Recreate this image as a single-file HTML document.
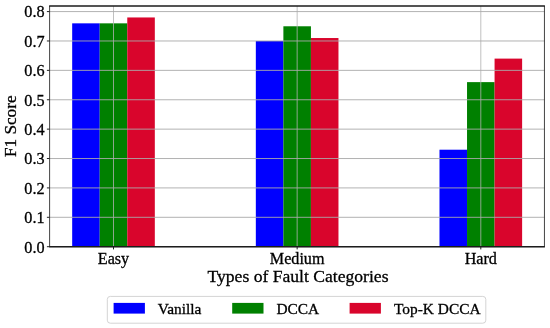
<!DOCTYPE html><html><head><meta charset="utf-8"><title>chart</title><style>html,body{margin:0;padding:0;background:#fff}svg{display:block}text{font-family:"Liberation Serif","Times New Roman",serif;fill:#000;stroke:#000;stroke-width:0.3px}</style></head><body>
<svg width="550" height="328" viewBox="0 0 550 328">
<rect width="550" height="328" fill="#fff"/>
<rect x="72.18" y="23.34" width="27.55" height="223.36" fill="#0000ff"/>
<rect x="99.73" y="23.34" width="27.55" height="223.36" fill="#008000"/>
<rect x="127.27" y="17.46" width="27.55" height="229.24" fill="#d9052c"/>
<rect x="255.83" y="40.97" width="27.55" height="205.73" fill="#0000ff"/>
<rect x="283.38" y="26.28" width="27.55" height="220.42" fill="#008000"/>
<rect x="310.92" y="38.03" width="27.55" height="208.67" fill="#d9052c"/>
<rect x="439.48" y="149.71" width="27.55" height="96.99" fill="#0000ff"/>
<rect x="467.03" y="82.12" width="27.55" height="164.58" fill="#008000"/>
<rect x="494.57" y="58.61" width="27.55" height="188.09" fill="#d9052c"/>
<line x1="113.50" x2="113.50" y1="6.0" y2="246.7" stroke="#b0b0b0" stroke-width="0.8"/>
<line x1="297.15" x2="297.15" y1="6.0" y2="246.7" stroke="#b0b0b0" stroke-width="0.8"/>
<line x1="480.80" x2="480.80" y1="6.0" y2="246.7" stroke="#b0b0b0" stroke-width="0.8"/>
<line x1="49.6" x2="544.45" y1="246.70" y2="246.70" stroke="#a9a9a9" stroke-width="0.9"/>
<line x1="49.6" x2="544.45" y1="217.31" y2="217.31" stroke="#a9a9a9" stroke-width="0.9"/>
<line x1="49.6" x2="544.45" y1="187.92" y2="187.92" stroke="#a9a9a9" stroke-width="0.9"/>
<line x1="49.6" x2="544.45" y1="158.53" y2="158.53" stroke="#a9a9a9" stroke-width="0.9"/>
<line x1="49.6" x2="544.45" y1="129.14" y2="129.14" stroke="#a9a9a9" stroke-width="0.9"/>
<line x1="49.6" x2="544.45" y1="99.75" y2="99.75" stroke="#a9a9a9" stroke-width="0.9"/>
<line x1="49.6" x2="544.45" y1="70.36" y2="70.36" stroke="#a9a9a9" stroke-width="0.9"/>
<line x1="49.6" x2="544.45" y1="40.97" y2="40.97" stroke="#a9a9a9" stroke-width="0.9"/>
<line x1="49.6" x2="544.45" y1="11.58" y2="11.58" stroke="#a9a9a9" stroke-width="0.9"/>
<line x1="113.50" x2="113.50" y1="246.7" y2="249.39999999999998" stroke="#222" stroke-width="1"/>
<line x1="297.15" x2="297.15" y1="246.7" y2="249.39999999999998" stroke="#222" stroke-width="1"/>
<line x1="480.80" x2="480.80" y1="246.7" y2="249.39999999999998" stroke="#222" stroke-width="1"/>
<line x1="46.9" x2="49.6" y1="246.70" y2="246.70" stroke="#222" stroke-width="1"/>
<line x1="46.9" x2="49.6" y1="217.31" y2="217.31" stroke="#222" stroke-width="1"/>
<line x1="46.9" x2="49.6" y1="187.92" y2="187.92" stroke="#222" stroke-width="1"/>
<line x1="46.9" x2="49.6" y1="158.53" y2="158.53" stroke="#222" stroke-width="1"/>
<line x1="46.9" x2="49.6" y1="129.14" y2="129.14" stroke="#222" stroke-width="1"/>
<line x1="46.9" x2="49.6" y1="99.75" y2="99.75" stroke="#222" stroke-width="1"/>
<line x1="46.9" x2="49.6" y1="70.36" y2="70.36" stroke="#222" stroke-width="1"/>
<line x1="46.9" x2="49.6" y1="40.97" y2="40.97" stroke="#222" stroke-width="1"/>
<line x1="46.9" x2="49.6" y1="11.58" y2="11.58" stroke="#222" stroke-width="1"/>
<path d="M49.6 6.0V246.7M544.45 6.0V246.7" fill="none" stroke="#222" stroke-width="0.85"/>
<path d="M49.15 6.0H544.9000000000001M49.15 246.7H544.9000000000001" fill="none" stroke="#1c1c1c" stroke-width="1.45"/>
<text x="44.6" y="252.55" font-size="16.2" text-anchor="end">0.0</text>
<text x="44.6" y="223.16" font-size="16.2" text-anchor="end">0.1</text>
<text x="44.6" y="193.77" font-size="16.2" text-anchor="end">0.2</text>
<text x="44.6" y="164.38" font-size="16.2" text-anchor="end">0.3</text>
<text x="44.6" y="134.99" font-size="16.2" text-anchor="end">0.4</text>
<text x="44.6" y="105.60" font-size="16.2" text-anchor="end">0.5</text>
<text x="44.6" y="76.21" font-size="16.2" text-anchor="end">0.6</text>
<text x="44.6" y="46.82" font-size="16.2" text-anchor="end">0.7</text>
<text x="44.6" y="17.43" font-size="16.2" text-anchor="end">0.8</text>
<text x="113.50" y="263.8" font-size="16.15" text-anchor="middle">Easy</text>
<text x="297.15" y="263.8" font-size="16.15" text-anchor="middle">Medium</text>
<text x="480.80" y="263.8" font-size="16.15" text-anchor="middle">Hard</text>
<text x="298.03" y="281.7" font-size="17.6" text-anchor="middle">Types of Fault Categories</text>
<text transform="translate(16.3,126.25) rotate(-90)" font-size="17.2" text-anchor="middle">F1 Score</text>
<rect x="107.3" y="296.4" width="378.5" height="26.8" rx="3" ry="3" fill="#fff" stroke="#d4d4d4" stroke-width="1"/>
<rect x="113.6" y="302.9" width="31.3" height="10.7" fill="#0000ff"/>
<text x="157.8" y="313.6" font-size="15.4">Vanilla</text>
<rect x="232.2" y="302.9" width="31.3" height="10.7" fill="#008000"/>
<text x="276.4" y="313.6" font-size="15.4">DCCA</text>
<rect x="349.6" y="302.9" width="31.3" height="10.7" fill="#d9052c"/>
<text x="394.0" y="313.6" font-size="15.4">Top-K DCCA</text>
</svg></body></html>
